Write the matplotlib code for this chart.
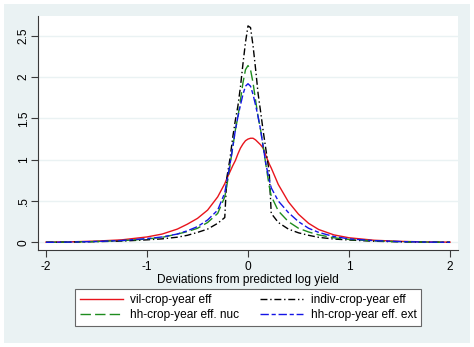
import matplotlib
matplotlib.use("Agg")
import matplotlib.pyplot as plt
from matplotlib.patches import Rectangle

plt.rcParams['font.family'] = ['Liberation Sans', 'DejaVu Sans']

# Evaluation grid (deviation from predicted log yield)
x = [-2.0, -1.75, -1.5, -1.25, -1.0, -0.85, -0.7, -0.6, -0.5, -0.4, -0.3,
     -0.23, -0.21, -0.18, -0.15, -0.125, -0.1, -0.075, -0.05, -0.025, 0.0,
     0.025, 0.05, 0.075, 0.1, 0.125, 0.15, 0.18, 0.21, 0.23,
     0.3, 0.4, 0.5, 0.6, 0.7, 0.85, 1.0, 1.25, 1.5, 1.75, 2.0]

# Kernel density estimates for each specification
vil_crop_year = [0.002, 0.006, 0.015, 0.03, 0.065, 0.10, 0.16, 0.22, 0.29, 0.39, 0.55,
                 0.71, 0.77, 0.85, 0.93, 0.99, 1.07, 1.14, 1.19, 1.23, 1.25,
                 1.26, 1.26, 1.24, 1.21, 1.18, 1.14, 1.04, 0.95, 0.90,
                 0.70, 0.49, 0.34, 0.23, 0.155, 0.09, 0.055, 0.025, 0.012, 0.005, 0.002]
indiv_crop_year = [0.0, 0.003, 0.008, 0.015, 0.03, 0.042, 0.062, 0.085, 0.12, 0.16, 0.23,
                   0.30, 0.78, 1.00, 1.28, 1.48, 1.65, 1.88, 2.16, 2.42, 2.62,
                   2.60, 2.38, 2.10, 1.80, 1.58, 1.35, 1.10, 0.85, 0.35,
                   0.24, 0.16, 0.115, 0.085, 0.06, 0.04, 0.028, 0.013, 0.006, 0.002, 0.0]
hh_nuc = [0.0, 0.003, 0.01, 0.02, 0.04, 0.06, 0.10, 0.13, 0.17, 0.24, 0.35,
          0.55, 0.68, 0.915, 1.16, 1.36, 1.52, 1.72, 1.93, 2.09, 2.14,
          2.09, 1.93, 1.72, 1.52, 1.36, 1.16, 0.915, 0.68, 0.56,
          0.38, 0.25, 0.17, 0.125, 0.09, 0.055, 0.035, 0.017, 0.008, 0.003, 0.0]
hh_ext = [0.0, 0.003, 0.01, 0.022, 0.045, 0.065, 0.10, 0.14, 0.19, 0.27, 0.39,
          0.60, 0.74, 0.93, 1.16, 1.36, 1.52, 1.66, 1.79, 1.89, 1.92,
          1.89, 1.79, 1.66, 1.52, 1.36, 1.16, 0.93, 0.76, 0.66,
          0.50, 0.36, 0.25, 0.17, 0.12, 0.07, 0.042, 0.02, 0.009, 0.003, 0.0]

labels = ["vil-crop-year eff", "indiv-crop-year eff",
          "hh-crop-year eff. nuc", "hh-crop-year eff. ext"]
xticks = [-2, -1, 0, 1, 2]
yticks = [0, 0.5, 1, 1.5, 2, 2.5]
ytick_labels = ["0", ".5", "1", "1.5", "2", "2.5"]

W, H = 474, 347
fig = plt.figure(figsize=(W / 100, H / 100), dpi=100, facecolor="white")
bg = "#EAF2F3"
fig.patches.append(Rectangle((4 / W, 4 / H), 466 / W, 339 / H,
                             transform=fig.transFigure, facecolor=bg,
                             edgecolor="none", zorder=-10))

ax = fig.add_axes([38 / W, 1 - 250 / H, 420 / W, 234 / H])
ax.set_facecolor("white")

lw = 1.0
l_vil, = ax.plot(x, vil_crop_year, color="#E8141C", lw=lw)
l_ind, = ax.plot(x, indiv_crop_year, color="black", lw=lw, dashes=(5, 2, 1, 2))
l_nuc, = ax.plot(x, hh_nuc, color="#1E8C1E", lw=lw, dashes=(7.5, 3))
l_ext, = ax.plot(x, hh_ext, color="#1414E6", lw=lw, dashes=(6, 2, 3, 2))

ax.set_xlim(-2.079, 2.079)
ax.set_ylim(-0.093, 2.74)
ax.set_xticks(xticks)
ax.set_xticklabels([str(t) for t in xticks])
ax.set_yticks(yticks)
ax.set_yticklabels(ytick_labels, rotation=90, va="center")

ax.grid(axis="y", color=bg, lw=1.0)
ax.set_axisbelow(True)
for side in ("top", "right"):
    ax.spines[side].set_visible(False)
for side in ("left", "bottom"):
    ax.spines[side].set_color("#3A3A3A")
    ax.spines[side].set_linewidth(0.8)
ax.tick_params(axis="both", direction="out", length=5, width=0.8,
               color="#3A3A3A", labelsize=8.6, labelcolor="black")
ax.tick_params(axis="x", pad=3)
ax.tick_params(axis="y", pad=1)

ax.set_xlabel("Deviations from predicted log yield", fontsize=8.6, labelpad=1)

# two-column legend, filled row by row
leg = fig.legend([l_vil, l_nuc, l_ind, l_ext],
                 [labels[0], labels[2], labels[1], labels[3]],
                 loc="center", bbox_to_anchor=(248 / W, 1 - 307.5 / H), ncol=2,
                 fontsize=8.6, frameon=True, fancybox=False, framealpha=1,
                 edgecolor="#666666", handlelength=3.6, handletextpad=0.65,
                 columnspacing=1.7, labelspacing=0.3, borderpad=0.4)
leg.get_frame().set_linewidth(0.8)

fig.savefig("out.png", dpi=100, facecolor="white")
